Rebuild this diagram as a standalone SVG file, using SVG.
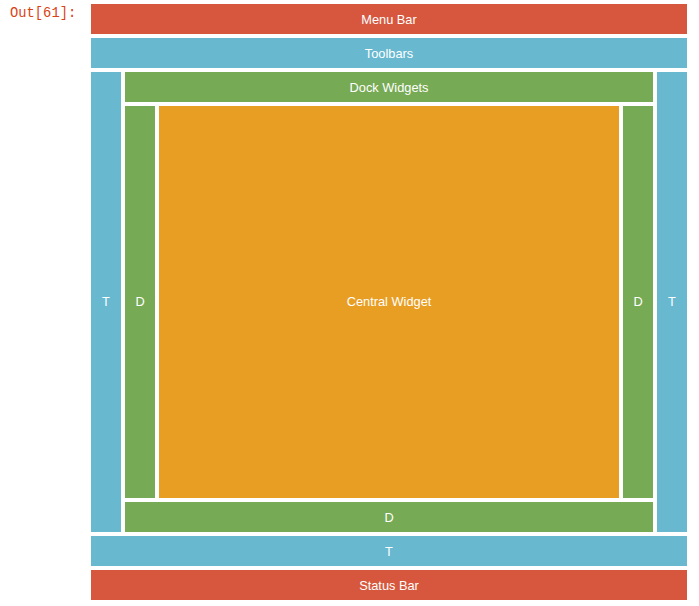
<svg xmlns="http://www.w3.org/2000/svg" width="699" height="606" viewBox="0 0 699 606">
<style>
.red{fill:#d6573d}.blue{fill:#68b8d0}.green{fill:#77aa55}.orange{fill:#e89e22}
.lbl{font-family:"Liberation Sans",Arial,sans-serif;font-size:12.8px;fill:#ffffff;text-anchor:middle}
.prompt{font-family:"Liberation Mono","DejaVu Sans Mono",monospace;font-size:13.8px;fill:#d84315}
</style>
<rect width="699" height="606" fill="#ffffff"/>
<text class="prompt" x="10" y="17">Out[61]:</text>
<g id="menubar"><rect class="red" x="91" y="4" width="596" height="30"/><text class="lbl" x="389" y="23.5">Menu Bar</text></g>
<g id="toolbars"><rect class="blue" x="91" y="38" width="596" height="30"/><text class="lbl" x="389" y="57.5">Toolbars</text></g>
<g id="toolbar-left"><rect class="blue" x="91" y="72" width="30" height="460"/><text class="lbl" x="106" y="305.5">T</text></g>
<g id="toolbar-right"><rect class="blue" x="657" y="72" width="30" height="460"/><text class="lbl" x="672" y="305.5">T</text></g>
<g id="dock-top"><rect class="green" x="125" y="72" width="528" height="30"/><text class="lbl" x="389" y="91.5">Dock Widgets</text></g>
<g id="dock-left"><rect class="green" x="125" y="106" width="30" height="392"/><text class="lbl" x="140" y="305.5">D</text></g>
<g id="dock-right"><rect class="green" x="623" y="106" width="30" height="392"/><text class="lbl" x="638" y="305.5">D</text></g>
<g id="central"><rect class="orange" x="159" y="106" width="460" height="392"/><text class="lbl" x="389" y="305.5">Central Widget</text></g>
<g id="dock-bottom"><rect class="green" x="125" y="502" width="528" height="30"/><text class="lbl" x="389" y="521.5">D</text></g>
<g id="toolbar-bottom"><rect class="blue" x="91" y="536" width="596" height="30"/><text class="lbl" x="389" y="555.5">T</text></g>
<g id="statusbar"><rect class="red" x="91" y="570" width="596" height="30"/><text class="lbl" x="389" y="589.5">Status Bar</text></g>
<g id="connectors"></g>
</svg>
